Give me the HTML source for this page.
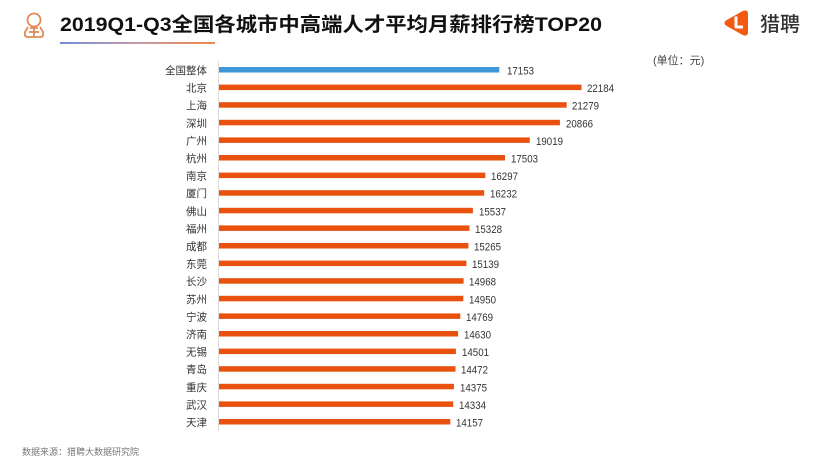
<!DOCTYPE html>
<html><head><meta charset="utf-8">
<style>
html,body{margin:0;padding:0;background:#fff;}
body{width:824px;height:459px;overflow:hidden;position:relative;}
svg{display:block;}
</style></head>
<body>
<svg width="824" height="459" viewBox="0 0 824 459" xmlns="http://www.w3.org/2000/svg">
<defs>
<linearGradient id="ul" x1="0" x2="1" y1="0" y2="0">
<stop offset="0" stop-color="#6f8fd8"/>
<stop offset="0.5" stop-color="#c59aa8"/>
<stop offset="1" stop-color="#f0884a"/>
</linearGradient>
</defs>
<rect width="824" height="459" fill="#fff"/>
<!-- icon -->
<g fill="none" stroke="#df8a55" stroke-width="1.8">
<circle cx="34" cy="20" r="6.5"/>
<path d="M28 27 L25 32 Q24 37 28 37 L40 37 Q44 37 43 32 L40 27"/>
<path d="M30 28 L38 28 M34 26.5 L34 37 M29 32 L39 32"/>
</g>
<!-- title -->
<text x="60" y="31" font-family="'Liberation Sans','Noto Sans CJK SC',sans-serif" font-weight="bold" font-size="19.5" fill="#111" textLength="542" lengthAdjust="spacingAndGlyphs">2019Q1-Q3全国各城市中高端人才平均月薪排行榜TOP20</text>
<rect x="60" y="42" width="155" height="2" fill="url(#ul)"/>
<!-- logo -->
<path d="M727 21 Q724 23 727 25 L743 34 Q747 36 747 32 L747 14 Q747 10 743 12 Z" fill="#f25a12" stroke="#f25a12" stroke-width="2" stroke-linejoin="round"/>
<path d="M736 16.5 L736 27 L743 27" fill="none" stroke="#fff" stroke-width="3" stroke-linejoin="round"/>
<text x="760" y="31" font-family="'Liberation Sans','Noto Sans CJK SC',sans-serif" font-size="20" font-weight="500" fill="#333">猎聘</text>
<text x="653" y="64" font-family="'Liberation Sans','Noto Sans CJK SC',sans-serif" font-size="11" fill="#444">(单位：元)</text>
<!-- axis -->
<line x1="218.5" y1="61" x2="218.5" y2="431" stroke="#dcdcdc" stroke-width="1"/>
<text x="22" y="455" font-family="'Liberation Sans','Noto Sans CJK SC',sans-serif" font-size="9" fill="#777">数据来源：猎聘大数据研究院</text>
<g font-family="'Liberation Sans','Noto Sans CJK SC',sans-serif" font-size="10.5" fill="#333">
<text x="207" y="74" text-anchor="end">全国整体</text><rect x="219" y="67" width="280.3" height="5.5" fill="#3e97d6"/><text x="507" y="74.5" font-size="11" textLength="27" lengthAdjust="spacingAndGlyphs">17153</text>
<text x="207" y="91.6" text-anchor="end">北京</text><rect x="219" y="84.6" width="362.5" height="5.5" fill="#e8520e"/><text x="587" y="92.1" font-size="11" textLength="27" lengthAdjust="spacingAndGlyphs">22184</text>
<text x="207" y="109.2" text-anchor="end">上海</text><rect x="219" y="102.2" width="347.7" height="5.5" fill="#e8520e"/><text x="572" y="109.7" font-size="11" textLength="27" lengthAdjust="spacingAndGlyphs">21279</text>
<text x="207" y="126.8" text-anchor="end">深圳</text><rect x="219" y="119.8" width="340.9" height="5.5" fill="#e8520e"/><text x="566" y="127.3" font-size="11" textLength="27" lengthAdjust="spacingAndGlyphs">20866</text>
<text x="207" y="144.4" text-anchor="end">广州</text><rect x="219" y="137.4" width="310.8" height="5.5" fill="#e8520e"/><text x="536" y="144.9" font-size="11" textLength="27" lengthAdjust="spacingAndGlyphs">19019</text>
<text x="207" y="162" text-anchor="end">杭州</text><rect x="219" y="155" width="286" height="5.5" fill="#e8520e"/><text x="511" y="162.5" font-size="11" textLength="27" lengthAdjust="spacingAndGlyphs">17503</text>
<text x="207" y="179.6" text-anchor="end">南京</text><rect x="219" y="172.6" width="266.3" height="5.5" fill="#e8520e"/><text x="491" y="180.1" font-size="11" textLength="27" lengthAdjust="spacingAndGlyphs">16297</text>
<text x="207" y="197.2" text-anchor="end">厦门</text><rect x="219" y="190.2" width="265.2" height="5.5" fill="#e8520e"/><text x="490" y="197.7" font-size="11" textLength="27" lengthAdjust="spacingAndGlyphs">16232</text>
<text x="207" y="214.8" text-anchor="end">佛山</text><rect x="219" y="207.8" width="253.9" height="5.5" fill="#e8520e"/><text x="479" y="215.3" font-size="11" textLength="27" lengthAdjust="spacingAndGlyphs">15537</text>
<text x="207" y="232.4" text-anchor="end">福州</text><rect x="219" y="225.4" width="250.5" height="5.5" fill="#e8520e"/><text x="475" y="232.9" font-size="11" textLength="27" lengthAdjust="spacingAndGlyphs">15328</text>
<text x="207" y="250" text-anchor="end">成都</text><rect x="219" y="243" width="249.4" height="5.5" fill="#e8520e"/><text x="474" y="250.5" font-size="11" textLength="27" lengthAdjust="spacingAndGlyphs">15265</text>
<text x="207" y="267.6" text-anchor="end">东莞</text><rect x="219" y="260.6" width="247.4" height="5.5" fill="#e8520e"/><text x="472" y="268.1" font-size="11" textLength="27" lengthAdjust="spacingAndGlyphs">15139</text>
<text x="207" y="285.2" text-anchor="end">长沙</text><rect x="219" y="278.2" width="244.6" height="5.5" fill="#e8520e"/><text x="469" y="285.7" font-size="11" textLength="27" lengthAdjust="spacingAndGlyphs">14968</text>
<text x="207" y="302.8" text-anchor="end">苏州</text><rect x="219" y="295.8" width="244.3" height="5.5" fill="#e8520e"/><text x="469" y="303.3" font-size="11" textLength="27" lengthAdjust="spacingAndGlyphs">14950</text>
<text x="207" y="320.4" text-anchor="end">宁波</text><rect x="219" y="313.4" width="241.3" height="5.5" fill="#e8520e"/><text x="466" y="320.9" font-size="11" textLength="27" lengthAdjust="spacingAndGlyphs">14769</text>
<text x="207" y="338" text-anchor="end">济南</text><rect x="219" y="331" width="239.1" height="5.5" fill="#e8520e"/><text x="464" y="338.5" font-size="11" textLength="27" lengthAdjust="spacingAndGlyphs">14630</text>
<text x="207" y="355.6" text-anchor="end">无锡</text><rect x="219" y="348.6" width="236.9" height="5.5" fill="#e8520e"/><text x="462" y="356.1" font-size="11" textLength="27" lengthAdjust="spacingAndGlyphs">14501</text>
<text x="207" y="373.2" text-anchor="end">青岛</text><rect x="219" y="366.2" width="236.5" height="5.5" fill="#e8520e"/><text x="461" y="373.7" font-size="11" textLength="27" lengthAdjust="spacingAndGlyphs">14472</text>
<text x="207" y="390.8" text-anchor="end">重庆</text><rect x="219" y="383.8" width="234.9" height="5.5" fill="#e8520e"/><text x="460" y="391.3" font-size="11" textLength="27" lengthAdjust="spacingAndGlyphs">14375</text>
<text x="207" y="408.4" text-anchor="end">武汉</text><rect x="219" y="401.4" width="234.2" height="5.5" fill="#e8520e"/><text x="459" y="408.9" font-size="11" textLength="27" lengthAdjust="spacingAndGlyphs">14334</text>
<text x="207" y="426" text-anchor="end">天津</text><rect x="219" y="419" width="231.3" height="5.5" fill="#e8520e"/><text x="456" y="426.5" font-size="11" textLength="27" lengthAdjust="spacingAndGlyphs">14157</text>
</g>
</svg>
</body></html>
